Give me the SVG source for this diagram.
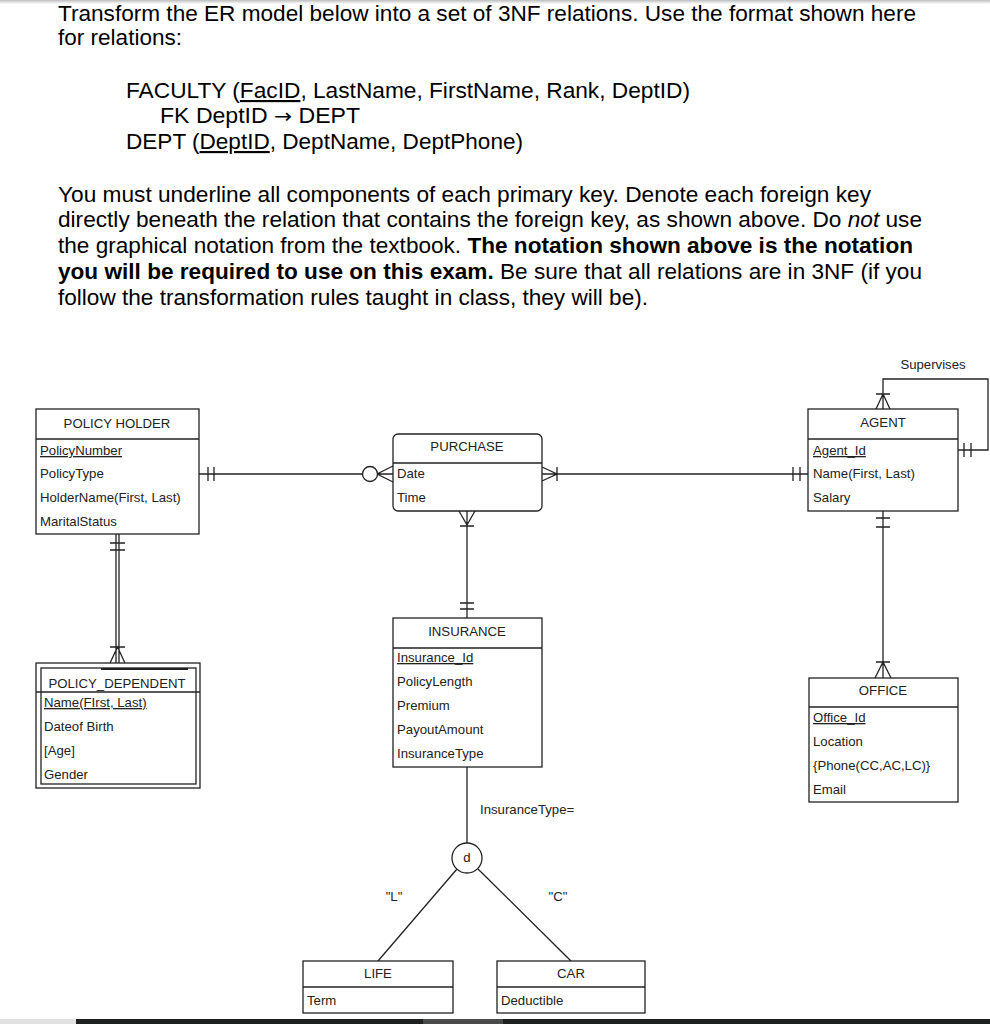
<svg xmlns="http://www.w3.org/2000/svg" width="990" height="1024" viewBox="0 0 990 1024">
<defs>
<linearGradient id="topg" x1="0" y1="0" x2="0" y2="1"><stop offset="0" stop-color="#bdbdbd"/><stop offset="1" stop-color="#ffffff"/></linearGradient>
</defs>
<style>
.h{font-family:"Liberation Sans",Arial,sans-serif;font-size:21.5px;fill:#000}
.t{font-family:"Liberation Sans",Arial,sans-serif;font-size:13.2px;fill:#222}
.c{text-anchor:middle}
.u{text-decoration:underline}
.box{fill:#fff;stroke:#222;stroke-width:1.3}
.ln{fill:none;stroke:#222;stroke-width:1.3}
</style>
<rect x="0" y="0" width="990" height="1024" fill="#fff"/>
<rect x="0" y="0" width="990" height="4" fill="url(#topg)"/>

<g id="instructions">
<text class="h" x="58" y="21" textLength="858" lengthAdjust="spacingAndGlyphs">Transform the ER model below into a set of 3NF relations. Use the format shown here</text>
<text class="h" x="58" y="45" textLength="124" lengthAdjust="spacingAndGlyphs">for relations:</text>
<text class="h" x="126" y="98" textLength="564" lengthAdjust="spacingAndGlyphs">FACULTY (<tspan class="u">FacID</tspan>, LastName, FirstName, Rank, DeptID)</text>
<text class="h" x="160" y="123" textLength="200" lengthAdjust="spacingAndGlyphs">FK DeptID <tspan font-family="'DejaVu Sans',sans-serif" font-size="20px">→</tspan> DEPT</text>
<text class="h" x="126" y="149" textLength="397" lengthAdjust="spacingAndGlyphs">DEPT (<tspan class="u">DeptID</tspan>, DeptName, DeptPhone)</text>
<text class="h" x="58" y="202" textLength="813" lengthAdjust="spacingAndGlyphs">You must underline all components of each primary key. Denote each foreign key</text>
<text class="h" x="58" y="227" textLength="864" lengthAdjust="spacingAndGlyphs">directly beneath the relation that contains the foreign key, as shown above. Do <tspan font-style="italic">not</tspan> use</text>
<text class="h" x="58" y="253" textLength="855" lengthAdjust="spacingAndGlyphs">the graphical notation from the textbook. <tspan font-weight="bold">The notation shown above is the notation</tspan></text>
<text class="h" x="58" y="279" textLength="864" lengthAdjust="spacingAndGlyphs"><tspan font-weight="bold">you will be required to use on this exam.</tspan> Be sure that all relations are in 3NF (if you</text>
<text class="h" x="58" y="305" textLength="590" lengthAdjust="spacingAndGlyphs">follow the transformation rules taught in class, they will be).</text>
</g>

<g id="connectors">
<path class="ln" d="M199,474 H362 M208,467 V481 M214,467 V481 M377,474 L393,466 M377,474 L393,482 M377,474 H393"/>
<circle cx="370" cy="474" r="7.5" fill="#fff" stroke="#222" stroke-width="1.3"/>
<path class="ln" d="M542,474 H808 M542,467 L557,474 L542,481 M557,467 V481 M793,467 V481 M800,467 V481"/>
<path class="ln" d="M467,511 V618 M459,511 L467,525 L475,511 M460,526 H474 M460,603 H474 M460,609 H474"/>
<path class="ln" d="M116,534 V663 M119,534 V663 M110,543 H125 M110,550 H125 M110,647 H125 M110,663 L117.5,647 L125,663"/>
<path class="ln" d="M883,511 V678 M876,518 H890 M876,527 H890 M876,662 H890 M875,678 L883,662 L891,678"/>
<path class="ln" d="M883,409 V379 H988 V450 H958 M876,394 H890 M876,409 L883,394 L890,409 M964,443 V457 M971,443 V457"/>
<text class="t c" x="933" y="369">Supervises</text>
<path class="ln" d="M467,767 V843 M457,869 L378,961 M478,869 L571,961"/>
<text class="t" x="480" y="814">InsuranceType=</text>
<text class="t c" x="394" y="901">"L"</text>
<text class="t c" x="558" y="901">"C"</text>
</g>

<g id="isa-d">
<circle cx="467" cy="858" r="15" fill="#fff" stroke="#222" stroke-width="1.3"/>
<text class="t c" x="467" y="862">d</text>
</g>

<g id="policy-holder">
<rect class="box" x="36" y="409" width="163" height="125"/>
<path class="ln" d="M36,439 H199"/>
<text class="t c" x="117" y="428">POLICY HOLDER</text>
<text class="t u" x="40" y="455">PolicyNumber</text>
<text class="t" x="40" y="478">PolicyType</text>
<text class="t" x="40" y="502">HolderName(First, Last)</text>
<text class="t" x="40" y="526">MaritalStatus</text>
</g>

<g id="purchase">
<rect class="box" x="393" y="434" width="149" height="77" rx="5"/>
<path class="ln" d="M393,463 H542"/>
<text class="t c" x="467" y="451">PURCHASE</text>
<text class="t" x="397" y="478">Date</text>
<text class="t" x="397" y="502">Time</text>
</g>

<g id="agent">
<rect class="box" x="808" y="409" width="150" height="102"/>
<path class="ln" d="M808,439 H958"/>
<text class="t c" x="883" y="427">AGENT</text>
<text class="t u" x="813" y="455">Agent_Id</text>
<text class="t" x="813" y="478">Name(First, Last)</text>
<text class="t" x="813" y="502">Salary</text>
</g>

<g id="policy-dependent">
<rect class="box" x="36" y="663" width="164" height="125"/>
<rect class="box" x="41" y="668" width="155" height="116"/>
<path class="ln" d="M36,692 H200"/>
<path d="M101,669 H188" stroke="#222" stroke-width="2"/>
<text class="t c" x="117" y="688">POLICY_DEPENDENT</text>
<text class="t u" x="44" y="707">Name(FIrst, Last)</text>
<text class="t" x="44" y="731">Dateof Birth</text>
<text class="t" x="44" y="755">[Age]</text>
<text class="t" x="44" y="779">Gender</text>
</g>

<g id="insurance">
<rect class="box" x="393" y="618" width="149" height="149"/>
<path class="ln" d="M393,648 H542"/>
<text class="t c" x="467" y="636">INSURANCE</text>
<text class="t u" x="397" y="662">Insurance_Id</text>
<text class="t" x="397" y="686">PolicyLength</text>
<text class="t" x="397" y="710">Premium</text>
<text class="t" x="397" y="734">PayoutAmount</text>
<text class="t" x="397" y="758">InsuranceType</text>
</g>

<g id="office">
<rect class="box" x="809" y="678" width="149" height="124"/>
<path class="ln" d="M809,707 H958"/>
<text class="t c" x="883" y="695">OFFICE</text>
<text class="t u" x="813" y="722">Office_Id</text>
<text class="t" x="813" y="746">Location</text>
<text class="t" x="813" y="770">{Phone(CC,AC,LC)}</text>
<text class="t" x="813" y="794">Email</text>
</g>

<g id="life">
<rect class="box" x="303" y="961" width="150" height="52"/>
<path class="ln" d="M303,987 H453"/>
<text class="t c" x="378" y="978">LIFE</text>
<text class="t" x="307" y="1005">Term</text>
</g>

<g id="car">
<rect class="box" x="497" y="961" width="148" height="52"/>
<path class="ln" d="M497,987 H645"/>
<text class="t c" x="571" y="978">CAR</text>
<text class="t" x="501" y="1005">Deductible</text>
</g>

<rect x="0" y="1019" width="76" height="5" fill="#e2e2e2"/>
<rect x="76" y="1019" width="914" height="5" fill="#1e2020"/>
<rect x="423" y="1019" width="80" height="5" fill="#4a4a4a"/>
</svg>
